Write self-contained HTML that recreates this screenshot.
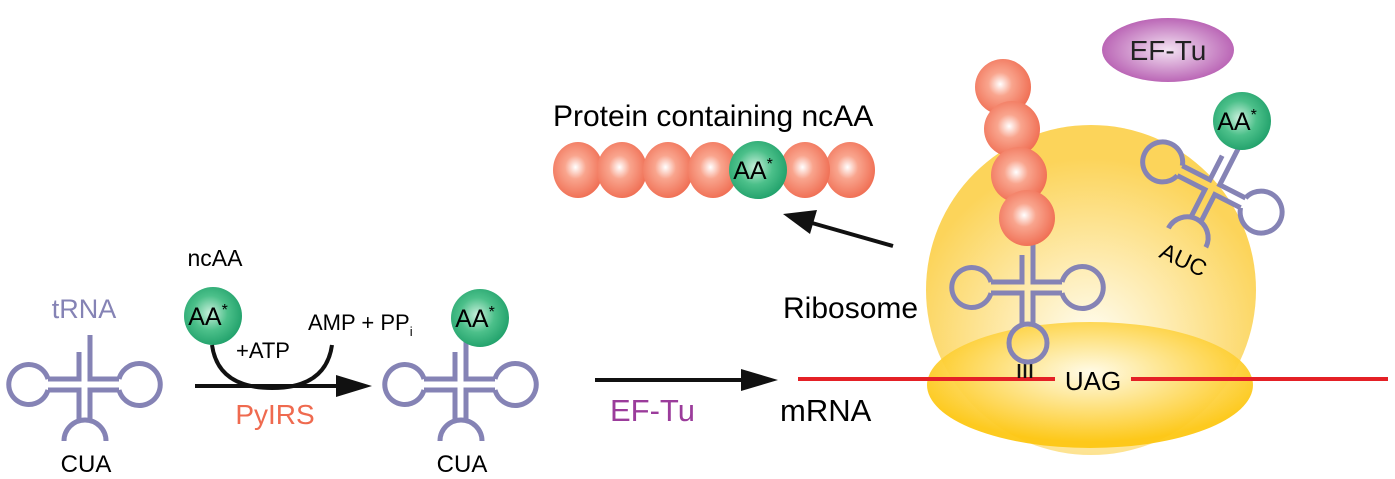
<!DOCTYPE html>
<html><head><meta charset="utf-8"><style>
html,body{margin:0;padding:0;background:#fff;width:1395px;height:479px;overflow:hidden}
svg text{font-family:"Liberation Sans",sans-serif}
</style></head><body>
<svg width="1395" height="479" viewBox="0 0 1395 479" xmlns="http://www.w3.org/2000/svg">
<defs>
<radialGradient id="red" cx="45%" cy="45%" r="60%"><stop offset="0" stop-color="#fff"/><stop offset="0.35" stop-color="#f9a58e"/><stop offset="1" stop-color="#ef6a4f"/></radialGradient>
<radialGradient id="grn" cx="45%" cy="45%" r="60%"><stop offset="0" stop-color="#c9f0dc"/><stop offset="0.5" stop-color="#4cc08a"/><stop offset="1" stop-color="#1d9e68"/></radialGradient>
<radialGradient id="pur" cx="50%" cy="50%" r="55%"><stop offset="0" stop-color="#f3e2f2"/><stop offset="1" stop-color="#b55ab0"/></radialGradient>
<radialGradient id="yel" cx="50%" cy="65%" r="55%"><stop offset="0" stop-color="#fffdf2"/><stop offset="1" stop-color="#fcd45a"/></radialGradient>
<radialGradient id="yel2" cx="50%" cy="40%" r="55%"><stop offset="0" stop-color="#fffbe8"/><stop offset="1" stop-color="#fdc713"/></radialGradient>
<g id="trna" fill="none" stroke="#8583b5" stroke-width="5">
<path d="M-6,-32 V-5 H-37 M-37,6 H-6 V37 M5,-49 V-5 H34 M34,6 H5 V37"/>
<path d="M-37,-5 A20 20 0 1 0 -37 6"/>
<path d="M34,-5 A21 21 0 1 1 34 6"/>
</g>
<path id="arch" d="M-21,57 A21 21 0 0 1 21 57" fill="none" stroke="#8583b5" stroke-width="5"/>
</defs>

<!-- ribosome -->
<circle cx="1091" cy="290" r="165" fill="url(#yel)"/>
<ellipse cx="1090" cy="385" rx="163" ry="63" fill="url(#yel2)" opacity="0.95"/>

<!-- EF-Tu -->
<ellipse cx="1168" cy="50" rx="66" ry="32" fill="url(#pur)"/>
<text x="1168" y="60" font-size="28" text-anchor="middle" fill="#222">EF-Tu</text>

<!-- left tRNA -->
<g transform="translate(85,384)"><use href="#trna"/><use href="#arch"/></g>
<text x="86" y="472" font-size="24" text-anchor="middle">CUA</text>
<text x="84" y="318" font-size="27" text-anchor="middle" fill="#8583b5">tRNA</text>

<!-- ncAA -->
<text x="215" y="266" font-size="23" text-anchor="middle">ncAA</text>
<circle cx="213" cy="316" r="29" fill="url(#grn)"/>
<text x="208" y="325" font-size="25" text-anchor="middle">AA<tspan font-size="16" dy="-10">*</tspan></text>
<path d="M212,345 Q218,388 272,388 Q326,388 332,345" fill="none" stroke="#111" stroke-width="4"/>
<text x="263" y="358" font-size="22" text-anchor="middle">+ATP</text>
<text x="308" y="330" font-size="22">AMP + PP<tspan font-size="13" dy="6">i</tspan></text>
<line x1="195" y1="386" x2="340" y2="386" stroke="#111" stroke-width="4"/>
<path d="M336,375 L372,386 L336,397 Z" fill="#111"/>
<text x="275" y="424" font-size="28" text-anchor="middle" fill="#ef6a4f">PyIRS</text>

<!-- middle tRNA -->
<g transform="translate(461,384)"><use href="#trna"/><use href="#arch"/></g>
<text x="462" y="472" font-size="24" text-anchor="middle">CUA</text>
<circle cx="480" cy="318" r="29" fill="url(#grn)"/>
<text x="475" y="327" font-size="25" text-anchor="middle">AA<tspan font-size="16" dy="-10">*</tspan></text>

<line x1="595" y1="380" x2="745" y2="380" stroke="#111" stroke-width="4"/>
<path d="M741,369 L778,380 L741,391 Z" fill="#111"/>
<text x="610" y="421" font-size="31" fill="#9b3c9b">EF-Tu</text>
<text x="780" y="421" font-size="31">mRNA</text>
<text x="783" y="318" font-size="30">Ribosome</text>

<!-- protein -->
<text x="553" y="126" font-size="30">Protein containing ncAA</text>
<g fill="url(#red)">
<ellipse cx="850" cy="170" rx="25" ry="28"/>
<ellipse cx="805" cy="170" rx="25" ry="28"/>
<ellipse cx="578" cy="170" rx="25" ry="28"/>
<ellipse cx="622" cy="170" rx="25" ry="28"/>
<ellipse cx="668" cy="170" rx="25" ry="28"/>
<ellipse cx="713" cy="170" rx="25" ry="28"/>
</g>
<circle cx="758" cy="170" r="29" fill="url(#grn)"/>
<text x="753" y="179" font-size="25" text-anchor="middle">AA<tspan font-size="16" dy="-10">*</tspan></text>
<line x1="893" y1="246" x2="812" y2="223" stroke="#111" stroke-width="4"/>
<path d="M817,210 L783,214 L810,234 Z" fill="#111"/>

<!-- mRNA -->
<line x1="798" y1="379" x2="1055" y2="379" stroke="#e42026" stroke-width="4"/>
<line x1="1131" y1="379" x2="1388" y2="379" stroke="#e42026" stroke-width="4"/>
<text x="1093" y="390" font-size="26" text-anchor="middle">UAG</text>
<path d="M1019,364 V378 M1025,364 V378 M1031,364 V378" stroke="#111" stroke-width="2.5"/>

<!-- ribosome tRNA -->
<g transform="translate(1028,287)"><use href="#trna"/></g>
<circle cx="1028" cy="343" r="19" fill="none" stroke="#8583b5" stroke-width="5"/>
<g fill="url(#red)">
<circle cx="1003" cy="87" r="28"/>
<circle cx="1012" cy="129" r="28"/>
<circle cx="1019" cy="175" r="28"/>
<circle cx="1027" cy="218" r="28"/>
</g>

<!-- tilted tRNA -->
<g transform="translate(1213,187) rotate(27)">
<use href="#trna"/>
<use href="#arch"/>
</g>
<circle cx="1242" cy="121" r="29" fill="url(#grn)"/>
<text x="1237" y="130" font-size="25" text-anchor="middle">AA<tspan font-size="16" dy="-10">*</tspan></text>
<text x="1180" y="267" font-size="23" text-anchor="middle" transform="rotate(25 1180 267)">AUC</text>
</svg>
</body></html>
